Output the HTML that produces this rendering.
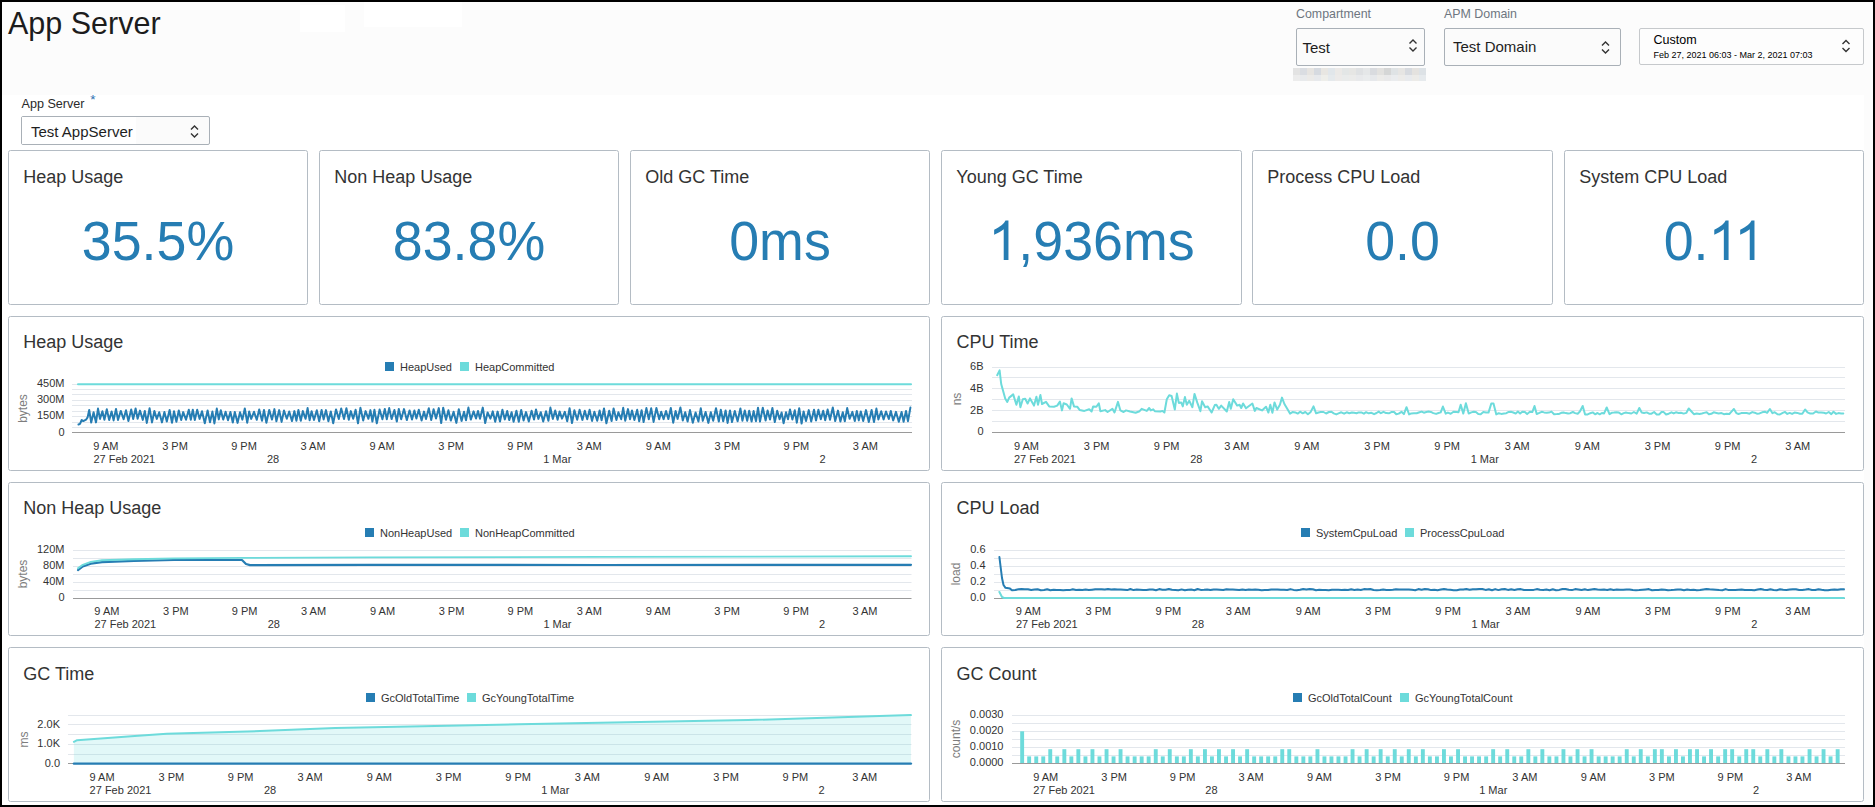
<!DOCTYPE html>
<html><head><meta charset="utf-8"><title>App Server</title>
<style>
html,body{margin:0;padding:0;}
body{width:1875px;height:807px;overflow:hidden;background:#000;position:relative;font-family:"Liberation Sans", sans-serif;}
.abs{position:absolute;}
.frame{left:2px;top:2px;width:1871px;height:803px;background:#fcfcfc;}
.content{left:2px;top:95px;width:1862px;height:710px;background:#ffffff;}
.card{position:absolute;box-sizing:border-box;border:1px solid #b4bcc4;border-radius:2.5px;background:#fff;}
.sel{position:absolute;box-sizing:border-box;border:1px solid #a9b0b7;border-radius:2px;}
svg{position:absolute;left:0;top:0;overflow:visible;}
svg text{font-family:"Liberation Sans", sans-serif;}
</style></head><body>
<div class="abs frame"></div>
<div class="abs content"></div>
<div class="abs" style="left:300px;top:5px;width:45px;height:27px;background:#fff"></div>
<div class="abs" style="left:364px;top:2px;width:98px;height:25px;background:#fff"></div>

<div class="sel" style="left:1296px;top:28px;width:129px;height:38px;background:#fbfbfb"></div>
<div class="sel" style="left:1444px;top:28px;width:177px;height:38px;background:#fbfbfb"></div>
<div class="sel" style="left:1639px;top:28px;width:225px;height:37px;background:#fdfdfd;border-color:#c6c9cc"></div>
<div class="sel" style="left:21px;top:116px;width:189px;height:29px;background:#fbfbfb"></div>
<div class="abs" style="left:22px;top:117px;width:114px;height:27px;background:#fff"></div>
<div class="abs" style="left:1293px;top:68px;width:7px;height:7px;background:#e3e3e3"></div><div class="abs" style="left:1293px;top:75px;width:7px;height:6px;background:#ececec"></div><div class="abs" style="left:1300px;top:68px;width:7px;height:7px;background:#dadde2"></div><div class="abs" style="left:1300px;top:75px;width:7px;height:6px;background:#e8eaec"></div><div class="abs" style="left:1307px;top:68px;width:7px;height:7px;background:#e6e4e1"></div><div class="abs" style="left:1307px;top:75px;width:7px;height:6px;background:#ebeae8"></div><div class="abs" style="left:1314px;top:68px;width:7px;height:7px;background:#d6dae0"></div><div class="abs" style="left:1314px;top:75px;width:7px;height:6px;background:#e7e9ec"></div><div class="abs" style="left:1321px;top:68px;width:7px;height:7px;background:#e8e6e2"></div><div class="abs" style="left:1321px;top:75px;width:7px;height:6px;background:#eeeeea"></div><div class="abs" style="left:1328px;top:68px;width:7px;height:7px;background:#e1e6ea"></div><div class="abs" style="left:1328px;top:75px;width:7px;height:6px;background:#e5e9ec"></div><div class="abs" style="left:1335px;top:68px;width:7px;height:7px;background:#ebe9e7"></div><div class="abs" style="left:1335px;top:75px;width:7px;height:6px;background:#eceae9"></div><div class="abs" style="left:1342px;top:68px;width:7px;height:7px;background:#e3e6e6"></div><div class="abs" style="left:1342px;top:75px;width:7px;height:6px;background:#e9ebeb"></div><div class="abs" style="left:1349px;top:68px;width:7px;height:7px;background:#e6e6e4"></div><div class="abs" style="left:1349px;top:75px;width:7px;height:6px;background:#ebebea"></div><div class="abs" style="left:1356px;top:68px;width:7px;height:7px;background:#dfe1e3"></div><div class="abs" style="left:1356px;top:75px;width:7px;height:6px;background:#e8e9eb"></div><div class="abs" style="left:1363px;top:68px;width:7px;height:7px;background:#e5e7e8"></div><div class="abs" style="left:1363px;top:75px;width:7px;height:6px;background:#eaeced"></div><div class="abs" style="left:1370px;top:68px;width:7px;height:7px;background:#d9dbdf"></div><div class="abs" style="left:1370px;top:75px;width:7px;height:6px;background:#e6e8eb"></div><div class="abs" style="left:1377px;top:68px;width:7px;height:7px;background:#e2e1df"></div><div class="abs" style="left:1377px;top:75px;width:7px;height:6px;background:#ecebe9"></div><div class="abs" style="left:1384px;top:68px;width:7px;height:7px;background:#d5d6d6"></div><div class="abs" style="left:1384px;top:75px;width:7px;height:6px;background:#e9e9ea"></div><div class="abs" style="left:1391px;top:68px;width:7px;height:7px;background:#dfe3e5"></div><div class="abs" style="left:1391px;top:75px;width:7px;height:6px;background:#eaecee"></div><div class="abs" style="left:1398px;top:68px;width:7px;height:7px;background:#e6e5e3"></div><div class="abs" style="left:1398px;top:75px;width:7px;height:6px;background:#ecebe9"></div><div class="abs" style="left:1405px;top:68px;width:7px;height:7px;background:#d7dadf"></div><div class="abs" style="left:1405px;top:75px;width:7px;height:6px;background:#e8eaed"></div><div class="abs" style="left:1412px;top:68px;width:7px;height:7px;background:#e4e2df"></div><div class="abs" style="left:1412px;top:75px;width:7px;height:6px;background:#ecebe8"></div><div class="abs" style="left:1419px;top:68px;width:7px;height:7px;background:#dde2e6"></div><div class="abs" style="left:1419px;top:75px;width:7px;height:6px;background:#e6eaed"></div>
<div class="card" style="left:8px;top:150px;width:300px;height:155px"></div>
<div class="card" style="left:319px;top:150px;width:300px;height:155px"></div>
<div class="card" style="left:630px;top:150px;width:300px;height:155px"></div>
<div class="card" style="left:941px;top:150px;width:301px;height:155px"></div>
<div class="card" style="left:1252px;top:150px;width:301px;height:155px"></div>
<div class="card" style="left:1564px;top:150px;width:300px;height:155px"></div>
<div class="card" style="left:8px;top:316px;width:922px;height:155px"></div>
<div class="card" style="left:941px;top:316px;width:923px;height:155px"></div>
<div class="card" style="left:8px;top:482px;width:922px;height:154px"></div>
<div class="card" style="left:941px;top:482px;width:923px;height:154px"></div>
<div class="card" style="left:8px;top:647px;width:922px;height:155px"></div>
<div class="card" style="left:941px;top:647px;width:923px;height:155px"></div>
<svg width="1875" height="807" viewBox="0 0 1875 807"><text x="8" y="34" font-size="30.5" fill="#1c1c1c" text-anchor="start" >App Server</text><text x="1296" y="18" font-size="12.4" fill="#6e7680" text-anchor="start" >Compartment</text><text x="1444" y="18" font-size="12.4" fill="#6e7680" text-anchor="start" >APM Domain</text><text x="1302.5" y="53" font-size="15" fill="#1e1e1e" text-anchor="start" >Test</text><text x="1453" y="52" font-size="15" fill="#1e1e1e" text-anchor="start" >Test Domain</text><text x="1653.5" y="44" font-size="12.5" fill="#000" text-anchor="start" >Custom</text><text x="1653.5" y="58" font-size="9" fill="#000" text-anchor="start" >Feb 27, 2021 06:03 - Mar 2, 2021 07:03</text><text x="21.5" y="108" font-size="12.6" fill="#2a2a2a" text-anchor="start" >App Server</text><text x="90.3" y="104" font-size="13.5" fill="#2d6fb1" text-anchor="start" >*</text><text x="31" y="137" font-size="15" fill="#1e1e1e" text-anchor="start" >Test AppServer</text><path d="M1409.5,43.5 L1413,40.0 L1416.5,43.5 M1409.5,47.5 L1413,51.0 L1416.5,47.5" fill="none" stroke="#333" stroke-width="1.4"/><path d="M1602.0,45.5 L1605.5,42.0 L1609.0,45.5 M1602.0,49.5 L1605.5,53.0 L1609.0,49.5" fill="none" stroke="#333" stroke-width="1.4"/><path d="M1842.5,44 L1846,40.5 L1849.5,44 M1842.5,48 L1846,51.5 L1849.5,48" fill="none" stroke="#333" stroke-width="1.4"/><path d="M191.0,129.5 L194.5,126.0 L198.0,129.5 M191.0,133.5 L194.5,137.0 L198.0,133.5" fill="none" stroke="#333" stroke-width="1.4"/><text x="23.3" y="183" font-size="18" fill="#333333" text-anchor="start" >Heap Usage</text><g transform="translate(158.0,260) scale(0.955,1)"><text x="0" y="0" font-size="56.3" fill="#267db3" text-anchor="middle" >35.5%</text></g><text x="334.3" y="183" font-size="18" fill="#333333" text-anchor="start" >Non Heap Usage</text><g transform="translate(469.0,260) scale(0.955,1)"><text x="0" y="0" font-size="56.3" fill="#267db3" text-anchor="middle" >83.8%</text></g><text x="645.3" y="183" font-size="18" fill="#333333" text-anchor="start" >Old GC Time</text><g transform="translate(780.0,260) scale(0.955,1)"><text x="0" y="0" font-size="56.3" fill="#267db3" text-anchor="middle" >0ms</text></g><text x="956.3" y="183" font-size="18" fill="#333333" text-anchor="start" >Young GC Time</text><g transform="translate(1091.5,260) scale(0.955,1)"><path transform="translate(-107.96,0) scale(0.056299999999999996,-0.056299999999999996)" d="M373,0 L373,702 L318,702 C292,651 238,600 107,536 L107,450 C172,474 238,510 285,545 L285,0 Z" fill="#267db3"/><text x="-76.65" y="0" font-size="56.3" fill="#267db3" text-anchor="start" >,936ms</text></g><text x="1267.3" y="183" font-size="18" fill="#333333" text-anchor="start" >Process CPU Load</text><g transform="translate(1402.5,260) scale(0.955,1)"><text x="0" y="0" font-size="56.3" fill="#267db3" text-anchor="middle" >0.0</text></g><text x="1579.3" y="183" font-size="18" fill="#333333" text-anchor="start" >System CPU Load</text><g transform="translate(1714.0,260) scale(0.955,1)"><text x="-52.70" y="0" font-size="56.3" fill="#267db3" text-anchor="start" >0.</text><path transform="translate(-5.74,0) scale(0.056299999999999996,-0.056299999999999996)" d="M373,0 L373,702 L318,702 C292,651 238,600 107,536 L107,450 C172,474 238,510 285,545 L285,0 Z" fill="#267db3"/><path transform="translate(21.39,0) scale(0.056299999999999996,-0.056299999999999996)" d="M373,0 L373,702 L318,702 C292,651 238,600 107,536 L107,450 C172,474 238,510 285,545 L285,0 Z" fill="#267db3"/></g><text x="23.3" y="348" font-size="18" fill="#333333" text-anchor="start" >Heap Usage</text><rect x="385" y="362" width="9" height="9" fill="#267db3"/><text x="400" y="371" font-size="11" fill="#333333" text-anchor="start" >HeapUsed</text><rect x="460" y="362" width="9" height="9" fill="#6ddbdb"/><text x="475" y="371" font-size="11" fill="#333333" text-anchor="start" >HeapCommitted</text><line x1="72" y1="384.5" x2="912" y2="384.5" stroke="#e3e7ec" stroke-width="1"/><line x1="72" y1="389.5" x2="912" y2="389.5" stroke="#e3e7ec" stroke-width="1"/><line x1="72" y1="394.5" x2="912" y2="394.5" stroke="#e3e7ec" stroke-width="1"/><line x1="72" y1="400.5" x2="912" y2="400.5" stroke="#e3e7ec" stroke-width="1"/><line x1="72" y1="405.5" x2="912" y2="405.5" stroke="#e3e7ec" stroke-width="1"/><line x1="72" y1="411.5" x2="912" y2="411.5" stroke="#e3e7ec" stroke-width="1"/><line x1="72" y1="416.5" x2="912" y2="416.5" stroke="#e3e7ec" stroke-width="1"/><line x1="72" y1="422.5" x2="912" y2="422.5" stroke="#e3e7ec" stroke-width="1"/><line x1="72" y1="427.5" x2="912" y2="427.5" stroke="#e3e7ec" stroke-width="1"/><line x1="72" y1="432.5" x2="912" y2="432.5" stroke="#9a9a9a" stroke-width="1"/><text x="64.5" y="387.2" font-size="11" fill="#333333" text-anchor="end" >450M</text><text x="64.5" y="403.2" font-size="11" fill="#333333" text-anchor="end" >300M</text><text x="64.5" y="419.2" font-size="11" fill="#333333" text-anchor="end" >150M</text><text x="64.5" y="435.9" font-size="11" fill="#333333" text-anchor="end" >0</text><text x="0" y="0" font-size="12" fill="#7d7d7d" text-anchor="middle" transform="translate(23,408.5) rotate(-90)" dominant-baseline="central">bytes</text><text x="105.9" y="450" font-size="11" fill="#333333" text-anchor="middle" >9 AM</text><text x="175.0" y="450" font-size="11" fill="#333333" text-anchor="middle" >3 PM</text><text x="244.0" y="450" font-size="11" fill="#333333" text-anchor="middle" >9 PM</text><text x="313.1" y="450" font-size="11" fill="#333333" text-anchor="middle" >3 AM</text><text x="382.1" y="450" font-size="11" fill="#333333" text-anchor="middle" >9 AM</text><text x="451.2" y="450" font-size="11" fill="#333333" text-anchor="middle" >3 PM</text><text x="520.2" y="450" font-size="11" fill="#333333" text-anchor="middle" >9 PM</text><text x="589.2" y="450" font-size="11" fill="#333333" text-anchor="middle" >3 AM</text><text x="658.3" y="450" font-size="11" fill="#333333" text-anchor="middle" >9 AM</text><text x="727.3" y="450" font-size="11" fill="#333333" text-anchor="middle" >3 PM</text><text x="796.4" y="450" font-size="11" fill="#333333" text-anchor="middle" >9 PM</text><text x="865.4" y="450" font-size="11" fill="#333333" text-anchor="middle" >3 AM</text><text x="93.4" y="463" font-size="11" fill="#333333" text-anchor="start" >27 Feb 2021</text><text x="267.0" y="463" font-size="11" fill="#333333" text-anchor="start" >28</text><text x="543.2" y="463" font-size="11" fill="#333333" text-anchor="start" >1 Mar</text><text x="819.4" y="463" font-size="11" fill="#333333" text-anchor="start" >2</text><path d="M78.0,384.3 L911.0,384.3" fill="none" stroke="#6ddbdb" stroke-width="2" stroke-linejoin="round" stroke-linecap="round"/><path d="M78.5,424.5 L80.0,423.8 L81.7,420.0 L83.3,421.1 L86.0,419.7 L87.6,417.4 L89.2,410.0 L91.2,422.6 L93.6,412.2 L96.0,422.4 L98.0,408.6 L100.0,418.9 L102.4,411.2 L104.4,419.7 L106.8,409.2 L109.2,420.1 L111.6,411.5 L113.6,420.4 L116.0,408.9 L118.0,420.0 L120.8,410.9 L123.6,419.2 L126.0,410.2 L128.4,421.1 L131.2,409.5 L133.2,419.0 L135.6,408.5 L137.6,418.7 L140.0,410.6 L142.8,419.9 L144.8,410.9 L146.8,422.9 L149.6,408.3 L152.0,422.4 L154.4,411.0 L156.8,418.9 L159.2,412.3 L162.0,422.4 L164.4,412.0 L166.8,421.5 L169.6,410.0 L172.0,422.8 L174.0,411.3 L176.4,421.8 L178.8,410.5 L181.2,420.0 L183.2,412.1 L186.0,419.7 L188.8,409.7 L190.8,419.8 L192.8,409.7 L194.8,420.1 L197.2,409.7 L199.6,418.9 L202.0,411.3 L204.8,423.2 L207.6,410.4 L210.0,422.2 L212.4,411.6 L214.4,423.4 L216.8,408.6 L218.8,419.4 L220.8,410.3 L223.2,419.6 L225.6,411.8 L228.0,420.3 L230.4,412.0 L232.8,422.5 L234.8,411.9 L237.6,422.9 L240.0,412.3 L242.4,419.6 L244.8,408.4 L247.2,422.7 L249.2,411.5 L251.2,418.9 L254.0,411.8 L256.8,419.8 L259.2,409.4 L262.0,420.7 L264.0,410.0 L266.4,422.7 L269.2,409.9 L272.0,419.6 L274.4,409.1 L276.4,421.3 L279.2,410.1 L281.6,421.9 L284.0,410.5 L286.8,418.7 L289.2,411.5 L292.0,421.1 L294.4,411.1 L296.4,420.8 L298.4,409.9 L300.8,420.7 L302.8,411.1 L305.6,418.8 L307.6,408.1 L309.6,420.2 L311.6,411.3 L314.0,419.9 L316.8,410.2 L319.2,421.2 L321.6,409.9 L323.6,419.4 L326.0,410.1 L328.4,421.2 L330.8,411.4 L333.2,423.3 L336.0,409.4 L338.8,419.0 L341.2,408.4 L344.0,419.1 L346.4,408.2 L348.8,419.8 L350.8,411.1 L353.2,418.7 L355.6,409.8 L358.0,423.3 L360.4,407.8 L363.2,420.5 L365.6,411.1 L368.4,418.8 L370.4,410.1 L372.4,421.5 L374.4,409.8 L376.8,423.2 L379.6,409.5 L382.4,419.3 L384.8,408.9 L386.8,419.3 L389.2,408.1 L391.6,419.1 L394.4,410.0 L396.8,421.5 L398.8,409.0 L401.2,419.2 L404.0,409.1 L406.8,420.1 L409.6,410.4 L412.0,419.5 L414.4,410.5 L416.4,418.5 L418.8,409.7 L421.6,420.5 L424.0,411.6 L426.0,419.0 L428.8,408.2 L431.2,420.1 L433.6,409.3 L436.0,418.5 L438.8,408.1 L441.2,423.1 L443.2,407.7 L446.0,419.7 L448.4,410.2 L450.8,420.6 L453.6,411.7 L456.4,422.9 L458.8,409.2 L461.6,420.9 L464.0,411.8 L466.0,420.3 L468.4,407.6 L470.8,419.6 L473.6,411.4 L476.0,418.5 L478.0,411.0 L480.0,418.7 L482.8,407.6 L485.2,423.0 L487.6,412.4 L490.4,418.7 L492.8,411.4 L495.2,421.8 L497.6,411.6 L500.0,421.6 L502.4,409.8 L504.8,419.4 L507.2,410.9 L509.2,420.1 L511.6,412.3 L513.6,421.7 L516.4,410.7 L518.8,421.7 L521.2,409.9 L523.6,420.6 L526.0,412.1 L528.8,421.5 L531.6,410.7 L534.0,419.6 L536.0,409.5 L538.4,418.9 L540.8,412.2 L543.2,421.6 L546.0,411.3 L548.4,420.8 L550.4,407.6 L552.8,418.9 L555.2,410.4 L557.6,419.8 L559.6,411.4 L562.0,418.6 L564.8,411.8 L567.2,421.2 L569.6,408.3 L572.0,423.0 L574.4,410.2 L577.2,419.7 L579.6,409.7 L582.4,419.9 L584.8,410.8 L587.2,419.2 L589.6,409.8 L592.0,420.9 L594.4,411.7 L597.2,420.7 L599.6,410.5 L601.6,420.2 L604.0,408.5 L606.4,423.3 L609.2,410.8 L611.6,421.1 L613.6,408.4 L616.4,420.0 L618.4,412.3 L621.2,419.2 L623.2,407.8 L625.2,420.7 L628.0,409.1 L630.0,419.2 L632.0,410.4 L634.4,420.1 L637.2,409.8 L639.2,421.3 L641.6,410.2 L643.6,422.1 L646.4,408.1 L648.8,419.2 L651.2,408.3 L653.6,421.9 L656.4,408.0 L659.2,419.2 L661.2,411.7 L663.6,419.1 L666.0,411.0 L668.4,419.1 L670.8,407.9 L673.2,422.7 L675.6,411.0 L677.6,418.9 L680.4,407.5 L682.8,420.6 L685.2,412.2 L687.6,421.5 L690.0,410.1 L692.8,422.8 L695.6,412.5 L698.4,421.5 L700.8,408.3 L702.8,420.8 L705.6,412.0 L708.4,422.9 L710.8,412.3 L713.2,420.7 L716.0,408.3 L718.8,421.6 L720.8,409.7 L723.2,421.2 L725.6,410.5 L727.6,422.9 L730.0,410.4 L732.0,422.0 L734.8,410.9 L737.6,421.2 L740.4,408.5 L742.4,420.7 L744.8,410.5 L747.2,420.9 L749.2,410.7 L751.6,421.6 L753.6,411.1 L756.0,421.2 L758.0,407.7 L760.0,421.5 L762.8,407.8 L765.6,420.5 L767.6,410.4 L770.0,419.6 L772.4,408.0 L774.8,422.1 L777.2,410.7 L779.6,419.2 L781.6,412.5 L783.6,423.3 L786.0,412.2 L788.0,419.2 L790.0,409.4 L792.4,419.6 L794.8,410.3 L796.8,422.7 L799.2,408.2 L801.6,423.5 L803.6,411.5 L806.0,421.0 L808.8,410.1 L811.2,421.6 L814.0,409.7 L816.0,420.5 L818.4,409.8 L820.8,419.3 L823.2,410.8 L825.2,420.2 L827.6,409.6 L830.0,419.7 L832.8,407.5 L835.2,421.0 L838.0,410.6 L840.4,421.6 L842.8,412.2 L844.8,421.3 L847.2,408.1 L849.6,418.8 L852.4,411.9 L854.8,421.0 L856.8,410.9 L858.8,420.4 L860.8,411.4 L863.2,421.1 L866.0,410.1 L868.8,421.9 L871.6,410.0 L874.0,422.0 L876.4,408.6 L878.4,419.5 L881.2,411.2 L883.6,419.4 L886.0,411.5 L888.8,419.0 L890.8,411.0 L893.2,420.4 L896.0,411.9 L898.8,421.8 L901.6,411.9 L903.6,421.8 L906.0,411.0 L908.0,421.2 L910.4,407.6" fill="none" stroke="#267db3" stroke-width="2" stroke-linejoin="round" stroke-linecap="round"/><text x="956.5" y="348" font-size="18" fill="#333333" text-anchor="start" >CPU Time</text><line x1="992" y1="367.5" x2="1845" y2="367.5" stroke="#e3e7ec" stroke-width="1"/><line x1="992" y1="377.5" x2="1845" y2="377.5" stroke="#e3e7ec" stroke-width="1"/><line x1="992" y1="388.5" x2="1845" y2="388.5" stroke="#e3e7ec" stroke-width="1"/><line x1="992" y1="399.5" x2="1845" y2="399.5" stroke="#e3e7ec" stroke-width="1"/><line x1="992" y1="410.5" x2="1845" y2="410.5" stroke="#e3e7ec" stroke-width="1"/><line x1="992" y1="421.5" x2="1845" y2="421.5" stroke="#e3e7ec" stroke-width="1"/><line x1="992" y1="432.5" x2="1845" y2="432.5" stroke="#9a9a9a" stroke-width="1"/><text x="983.5" y="370.3" font-size="11" fill="#333333" text-anchor="end" >6B</text><text x="983.5" y="392.3" font-size="11" fill="#333333" text-anchor="end" >4B</text><text x="983.5" y="413.7" font-size="11" fill="#333333" text-anchor="end" >2B</text><text x="983.5" y="435.4" font-size="11" fill="#333333" text-anchor="end" >0</text><text x="0" y="0" font-size="12" fill="#7d7d7d" text-anchor="middle" transform="translate(956.7,399) rotate(-90)" dominant-baseline="central">ns</text><text x="1026.5" y="450" font-size="11" fill="#333333" text-anchor="middle" >9 AM</text><text x="1096.6" y="450" font-size="11" fill="#333333" text-anchor="middle" >3 PM</text><text x="1166.7" y="450" font-size="11" fill="#333333" text-anchor="middle" >9 PM</text><text x="1236.8" y="450" font-size="11" fill="#333333" text-anchor="middle" >3 AM</text><text x="1306.9" y="450" font-size="11" fill="#333333" text-anchor="middle" >9 AM</text><text x="1377.0" y="450" font-size="11" fill="#333333" text-anchor="middle" >3 PM</text><text x="1447.1" y="450" font-size="11" fill="#333333" text-anchor="middle" >9 PM</text><text x="1517.2" y="450" font-size="11" fill="#333333" text-anchor="middle" >3 AM</text><text x="1587.3" y="450" font-size="11" fill="#333333" text-anchor="middle" >9 AM</text><text x="1657.5" y="450" font-size="11" fill="#333333" text-anchor="middle" >3 PM</text><text x="1727.6" y="450" font-size="11" fill="#333333" text-anchor="middle" >9 PM</text><text x="1797.7" y="450" font-size="11" fill="#333333" text-anchor="middle" >3 AM</text><text x="1014.0" y="463" font-size="11" fill="#333333" text-anchor="start" >27 Feb 2021</text><text x="1190.2" y="463" font-size="11" fill="#333333" text-anchor="start" >28</text><text x="1470.7" y="463" font-size="11" fill="#333333" text-anchor="start" >1 Mar</text><text x="1751.1" y="463" font-size="11" fill="#333333" text-anchor="start" >2</text><path d="M997.2,375.2 L999.6,370.4 L1001.2,384.0 L1005.2,398.4 L1007.3,401.9 L1009.2,397.6 L1013.2,394.4 L1016.4,404.8 L1018.8,396.5 L1020.4,407.2 L1022.8,399.2 L1025.2,398.7 L1027.6,403.5 L1030.0,398.4 L1034.0,405.6 L1036.4,396.8 L1038.0,404.8 L1040.4,394.9 L1042.0,404.0 L1046.0,401.9 L1049.2,406.4 L1054.0,406.7 L1057.2,405.6 L1059.9,401.6 L1062.0,410.4 L1063.6,403.2 L1066.8,404.5 L1070.0,408.8 L1071.6,398.4 L1074.0,406.4 L1077.2,406.7 L1079.6,409.9 L1084.4,410.9 L1089.2,409.3 L1091.6,411.5 L1093.2,406.4 L1096.4,406.7 L1098.8,403.2 L1100.4,411.2 L1105.2,410.1 L1107.6,412.0 L1112.4,408.8 L1114.5,412.5 L1118.0,401.9 L1120.4,410.4 L1123.6,412.0 L1126.0,410.4 L1130.0,411.5 L1135.6,412.8 L1139.6,411.2 L1141.7,408.8 L1146.8,410.9 L1149.2,408.0 L1150.8,410.4 L1153.2,409.3 L1154.8,411.2 L1160.4,411.5 L1162.5,410.9 L1164.4,412.5 L1166.8,399.2 L1169.2,395.2 L1171.6,396.0 L1174.8,409.6 L1176.9,393.6 L1178.8,402.9 L1181.2,402.4 L1182.8,406.4 L1184.9,397.1 L1186.8,404.8 L1189.2,400.8 L1192.4,407.2 L1194.5,393.9 L1197.2,402.4 L1200.4,411.2 L1202.0,401.3 L1205.2,407.2 L1207.6,406.4 L1211.6,412.5 L1214.8,405.1 L1216.4,404.8 L1218.8,408.8 L1221.2,405.6 L1226.8,411.5 L1229.2,401.9 L1230.8,408.8 L1233.2,399.2 L1237.2,405.6 L1239.6,404.8 L1241.2,408.0 L1243.1,403.5 L1246.0,408.3 L1252.4,403.5 L1254.8,410.9 L1256.4,408.0 L1262.0,410.4 L1266.0,406.7 L1268.4,412.5 L1270.3,404.8 L1272.4,412.8 L1274.5,402.4 L1277.2,409.6 L1279.9,404.8 L1282.0,397.6 L1284.4,404.0 L1286.8,408.0 L1290.0,413.6 L1292.5,412.1 L1295.3,412.4 L1297.7,413.6 L1300.1,411.7 L1302.7,413.3 L1305.3,412.0 L1307.9,414.2 L1310.7,411.9 L1313.5,406.4 L1316.1,413.3 L1318.5,412.5 L1320.7,412.1 L1323.5,412.0 L1326.1,413.5 L1328.9,412.0 L1331.5,411.8 L1333.7,413.4 L1336.3,414.4 L1339.1,413.2 L1341.3,412.3 L1344.1,413.7 L1346.7,412.3 L1349.3,413.2 L1351.9,412.5 L1354.1,412.8 L1356.5,413.3 L1358.7,412.4 L1361.3,412.4 L1363.9,413.7 L1366.1,412.2 L1368.7,413.3 L1371.5,412.8 L1374.1,414.2 L1376.5,413.0 L1378.7,411.6 L1380.9,413.2 L1383.5,411.8 L1386.1,413.1 L1388.9,413.3 L1391.3,412.1 L1394.1,412.0 L1396.3,414.3 L1398.7,413.6 L1401.5,411.8 L1403.9,414.1 L1406.5,407.2 L1409.1,414.4 L1411.3,413.4 L1413.9,413.3 L1416.7,413.3 L1419.5,412.2 L1421.7,411.6 L1423.9,412.7 L1426.3,412.0 L1428.5,411.5 L1430.9,411.9 L1433.3,413.1 L1436.1,413.9 L1438.5,413.0 L1440.7,412.4 L1442.9,406.5 L1445.7,413.6 L1447.9,412.6 L1450.7,413.7 L1453.5,411.7 L1456.3,412.0 L1458.5,412.3 L1460.7,404.8 L1463.3,413.6 L1465.9,403.2 L1468.7,413.6 L1471.3,412.4 L1473.7,411.8 L1475.9,412.0 L1478.3,414.0 L1480.7,414.3 L1483.3,412.1 L1486.1,412.5 L1488.5,412.6 L1491.3,403.5 L1493.5,403.5 L1496.3,414.4 L1498.7,413.2 L1501.3,413.9 L1504.1,413.4 L1506.3,413.2 L1508.7,411.9 L1510.9,411.8 L1513.3,412.5 L1515.7,413.6 L1517.9,411.6 L1520.1,413.6 L1522.3,411.7 L1524.9,412.1 L1527.1,414.1 L1529.9,411.8 L1532.3,412.1 L1534.5,406.0 L1536.7,414.0 L1539.3,412.9 L1541.7,411.8 L1544.1,412.4 L1546.7,412.8 L1548.9,412.6 L1551.5,411.6 L1554.1,414.2 L1556.9,414.1 L1559.1,413.9 L1561.3,412.8 L1563.5,412.5 L1565.7,413.1 L1568.1,413.6 L1570.3,413.2 L1572.9,412.0 L1575.1,413.1 L1577.7,413.8 L1579.9,411.5 L1582.7,406.0 L1585.1,414.4 L1587.7,414.4 L1590.3,413.2 L1592.7,412.4 L1595.1,414.3 L1597.5,413.0 L1599.7,414.3 L1601.9,413.0 L1604.1,413.4 L1606.7,407.5 L1609.5,414.2 L1611.7,412.8 L1613.9,412.6 L1616.5,412.3 L1618.9,412.6 L1621.3,414.3 L1623.7,413.1 L1625.9,412.5 L1628.5,413.1 L1631.3,413.5 L1633.9,412.0 L1636.7,413.6 L1639.3,408.0 L1641.7,412.5 L1644.1,413.0 L1646.7,412.4 L1649.1,413.7 L1651.5,413.7 L1654.1,412.0 L1656.7,414.4 L1659.3,414.4 L1661.5,412.0 L1663.7,412.1 L1666.1,414.5 L1668.7,413.7 L1671.5,412.3 L1673.7,413.4 L1675.9,412.3 L1678.7,412.9 L1680.9,412.7 L1683.7,413.6 L1686.3,412.9 L1688.7,408.5 L1691.5,411.5 L1693.9,414.2 L1696.7,413.6 L1699.5,414.0 L1701.9,413.5 L1704.1,412.9 L1706.7,412.3 L1708.9,414.2 L1711.3,413.8 L1713.7,412.3 L1716.5,412.9 L1718.7,413.4 L1721.5,413.1 L1723.9,414.2 L1726.5,413.8 L1729.3,414.0 L1731.5,411.6 L1733.9,409.0 L1736.3,413.1 L1738.5,414.0 L1741.3,413.1 L1744.1,413.0 L1746.7,413.1 L1749.5,413.7 L1752.3,412.1 L1754.7,412.7 L1756.9,413.7 L1759.5,413.4 L1762.1,412.3 L1764.9,411.7 L1767.1,412.8 L1769.9,409.0 L1772.5,413.2 L1774.7,412.2 L1777.5,414.3 L1779.9,414.5 L1782.7,412.9 L1785.1,411.9 L1787.3,413.9 L1789.7,412.9 L1792.1,413.9 L1794.5,412.6 L1797.3,412.9 L1799.9,413.8 L1802.3,413.8 L1805.1,409.5 L1807.5,412.3 L1810.3,413.6 L1813.1,413.5 L1815.9,411.5 L1818.5,412.6 L1821.1,412.5 L1823.9,412.8 L1826.1,413.5 L1828.7,412.0 L1831.3,414.1 L1833.5,411.8 L1836.1,413.9 L1838.5,413.1 L1841.1,413.4 L1843.3,413.5" fill="none" stroke="#6ddbdb" stroke-width="2" stroke-linejoin="round" stroke-linecap="round"/><text x="23.3" y="513.5" font-size="18" fill="#333333" text-anchor="start" >Non Heap Usage</text><rect x="365" y="528" width="9" height="9" fill="#267db3"/><text x="380" y="537" font-size="11" fill="#333333" text-anchor="start" >NonHeapUsed</text><rect x="460" y="528" width="9" height="9" fill="#6ddbdb"/><text x="475" y="537" font-size="11" fill="#333333" text-anchor="start" >NonHeapCommitted</text><line x1="73" y1="550.5" x2="911.5" y2="550.5" stroke="#e3e7ec" stroke-width="1"/><line x1="73" y1="558.5" x2="911.5" y2="558.5" stroke="#e3e7ec" stroke-width="1"/><line x1="73" y1="566.5" x2="911.5" y2="566.5" stroke="#e3e7ec" stroke-width="1"/><line x1="73" y1="574.5" x2="911.5" y2="574.5" stroke="#e3e7ec" stroke-width="1"/><line x1="73" y1="582.5" x2="911.5" y2="582.5" stroke="#e3e7ec" stroke-width="1"/><line x1="73" y1="590.5" x2="911.5" y2="590.5" stroke="#e3e7ec" stroke-width="1"/><line x1="73" y1="598.5" x2="911.5" y2="598.5" stroke="#9a9a9a" stroke-width="1"/><text x="64.5" y="552.9" font-size="11" fill="#333333" text-anchor="end" >120M</text><text x="64.5" y="568.9" font-size="11" fill="#333333" text-anchor="end" >80M</text><text x="64.5" y="584.9" font-size="11" fill="#333333" text-anchor="end" >40M</text><text x="64.5" y="600.9" font-size="11" fill="#333333" text-anchor="end" >0</text><text x="0" y="0" font-size="12" fill="#7d7d7d" text-anchor="middle" transform="translate(22.5,574) rotate(-90)" dominant-baseline="central">bytes</text><text x="106.9" y="615" font-size="11" fill="#333333" text-anchor="middle" >9 AM</text><text x="175.8" y="615" font-size="11" fill="#333333" text-anchor="middle" >3 PM</text><text x="244.7" y="615" font-size="11" fill="#333333" text-anchor="middle" >9 PM</text><text x="313.6" y="615" font-size="11" fill="#333333" text-anchor="middle" >3 AM</text><text x="382.6" y="615" font-size="11" fill="#333333" text-anchor="middle" >9 AM</text><text x="451.5" y="615" font-size="11" fill="#333333" text-anchor="middle" >3 PM</text><text x="520.4" y="615" font-size="11" fill="#333333" text-anchor="middle" >9 PM</text><text x="589.3" y="615" font-size="11" fill="#333333" text-anchor="middle" >3 AM</text><text x="658.2" y="615" font-size="11" fill="#333333" text-anchor="middle" >9 AM</text><text x="727.1" y="615" font-size="11" fill="#333333" text-anchor="middle" >3 PM</text><text x="796.1" y="615" font-size="11" fill="#333333" text-anchor="middle" >9 PM</text><text x="865.0" y="615" font-size="11" fill="#333333" text-anchor="middle" >3 AM</text><text x="94.4" y="628" font-size="11" fill="#333333" text-anchor="start" >27 Feb 2021</text><text x="267.7" y="628" font-size="11" fill="#333333" text-anchor="start" >28</text><text x="543.4" y="628" font-size="11" fill="#333333" text-anchor="start" >1 Mar</text><text x="819.0" y="628" font-size="11" fill="#333333" text-anchor="start" >2</text><path d="M78.0,570.1 L82.8,566.4 L90.8,563.7 L102.0,562.1 L134.0,560.8 L174.0,560.0 L242.0,560.0 L246.0,564.0 L250.0,565.1 L370.0,564.8 L600.0,565.0 L911.0,564.8" fill="none" stroke="#267db3" stroke-width="2.2" stroke-linejoin="round" stroke-linecap="round"/><path d="M78.0,568.3 L82.8,564.8 L90.8,561.9 L102.0,560.2 L134.0,559.2 L174.0,558.4 L242.0,557.9 L370.0,557.4 L600.0,556.9 L911.0,556.3" fill="none" stroke="#6ddbdb" stroke-width="1.9" stroke-linejoin="round" stroke-linecap="round"/><text x="956.5" y="513.5" font-size="18" fill="#333333" text-anchor="start" >CPU Load</text><rect x="1301" y="528" width="9" height="9" fill="#267db3"/><text x="1316" y="537" font-size="11" fill="#333333" text-anchor="start" >SystemCpuLoad</text><rect x="1405" y="528" width="9" height="9" fill="#6ddbdb"/><text x="1420" y="537" font-size="11" fill="#333333" text-anchor="start" >ProcessCpuLoad</text><line x1="994" y1="550.5" x2="1845" y2="550.5" stroke="#e3e7ec" stroke-width="1"/><line x1="994" y1="558.5" x2="1845" y2="558.5" stroke="#e3e7ec" stroke-width="1"/><line x1="994" y1="566.5" x2="1845" y2="566.5" stroke="#e3e7ec" stroke-width="1"/><line x1="994" y1="574.5" x2="1845" y2="574.5" stroke="#e3e7ec" stroke-width="1"/><line x1="994" y1="582.5" x2="1845" y2="582.5" stroke="#e3e7ec" stroke-width="1"/><line x1="994" y1="590.5" x2="1845" y2="590.5" stroke="#e3e7ec" stroke-width="1"/><line x1="994" y1="598.5" x2="1845" y2="598.5" stroke="#9a9a9a" stroke-width="1"/><text x="985.5" y="552.9" font-size="11" fill="#333333" text-anchor="end" >0.6</text><text x="985.5" y="568.9" font-size="11" fill="#333333" text-anchor="end" >0.4</text><text x="985.5" y="584.9" font-size="11" fill="#333333" text-anchor="end" >0.2</text><text x="985.5" y="600.9" font-size="11" fill="#333333" text-anchor="end" >0.0</text><text x="0" y="0" font-size="12" fill="#7d7d7d" text-anchor="middle" transform="translate(956,574) rotate(-90)" dominant-baseline="central">load</text><text x="1028.4" y="615" font-size="11" fill="#333333" text-anchor="middle" >9 AM</text><text x="1098.3" y="615" font-size="11" fill="#333333" text-anchor="middle" >3 PM</text><text x="1168.3" y="615" font-size="11" fill="#333333" text-anchor="middle" >9 PM</text><text x="1238.2" y="615" font-size="11" fill="#333333" text-anchor="middle" >3 AM</text><text x="1308.2" y="615" font-size="11" fill="#333333" text-anchor="middle" >9 AM</text><text x="1378.1" y="615" font-size="11" fill="#333333" text-anchor="middle" >3 PM</text><text x="1448.1" y="615" font-size="11" fill="#333333" text-anchor="middle" >9 PM</text><text x="1518.0" y="615" font-size="11" fill="#333333" text-anchor="middle" >3 AM</text><text x="1588.0" y="615" font-size="11" fill="#333333" text-anchor="middle" >9 AM</text><text x="1657.9" y="615" font-size="11" fill="#333333" text-anchor="middle" >3 PM</text><text x="1727.8" y="615" font-size="11" fill="#333333" text-anchor="middle" >9 PM</text><text x="1797.8" y="615" font-size="11" fill="#333333" text-anchor="middle" >3 AM</text><text x="1015.9" y="628" font-size="11" fill="#333333" text-anchor="start" >27 Feb 2021</text><text x="1191.8" y="628" font-size="11" fill="#333333" text-anchor="start" >28</text><text x="1471.5" y="628" font-size="11" fill="#333333" text-anchor="start" >1 Mar</text><text x="1751.3" y="628" font-size="11" fill="#333333" text-anchor="start" >2</text><path d="M999.4,592.0 L1002.0,597.0 L1004.0,598.0 L1844.0,598.0" fill="none" stroke="#6ddbdb" stroke-width="2" stroke-linejoin="round" stroke-linecap="round"/><path d="M999.4,557.0 L1000.5,566.0 L1002.0,578.0 L1003.5,585.0 L1005.5,587.8 L1010.0,588.6 L1012.0,590.2 L1015.2,589.9 L1018.4,589.3 L1021.6,589.1 L1024.8,589.2 L1028.0,589.3 L1031.2,590.0 L1034.4,589.5 L1037.6,589.2 L1040.8,590.2 L1044.0,590.0 L1047.2,589.2 L1050.4,590.2 L1053.6,589.8 L1056.8,590.0 L1060.0,589.9 L1063.2,590.2 L1066.4,590.0 L1069.6,590.1 L1072.8,589.3 L1076.0,589.9 L1079.2,589.7 L1082.4,590.0 L1085.6,589.6 L1088.8,590.1 L1092.0,589.7 L1095.2,589.3 L1098.4,589.3 L1101.6,589.2 L1104.8,589.6 L1108.0,589.1 L1111.2,589.6 L1114.4,589.2 L1117.6,589.6 L1120.8,589.6 L1124.0,589.7 L1127.2,590.1 L1130.4,589.0 L1133.6,590.1 L1136.8,589.6 L1140.0,589.7 L1143.2,589.9 L1146.4,590.1 L1149.6,589.5 L1152.8,589.5 L1156.0,590.2 L1159.2,589.1 L1162.4,589.8 L1165.6,589.8 L1168.8,589.0 L1172.0,589.8 L1175.2,589.9 L1178.4,590.2 L1181.6,589.4 L1184.8,590.3 L1188.0,589.7 L1191.2,589.6 L1194.4,590.2 L1197.6,589.0 L1200.8,589.9 L1204.0,589.8 L1207.2,589.4 L1210.4,590.1 L1213.6,589.5 L1216.8,589.6 L1220.0,589.7 L1223.2,590.0 L1226.4,589.3 L1229.6,589.6 L1232.8,589.5 L1236.0,589.7 L1239.2,590.1 L1242.4,589.4 L1245.6,590.1 L1248.8,589.5 L1252.0,589.7 L1255.2,589.4 L1258.4,589.7 L1261.6,590.3 L1264.8,589.9 L1268.0,590.0 L1271.2,589.4 L1274.4,589.4 L1277.6,589.4 L1280.8,589.8 L1284.0,589.8 L1287.2,590.0 L1290.4,589.1 L1293.6,589.9 L1296.8,590.2 L1300.0,589.7 L1303.2,589.1 L1306.4,589.4 L1309.6,589.0 L1312.8,589.2 L1316.0,590.2 L1319.2,589.8 L1322.4,589.9 L1325.6,590.0 L1328.8,590.2 L1332.0,589.8 L1335.2,589.8 L1338.4,589.8 L1341.6,589.9 L1344.8,589.8 L1348.0,589.9 L1351.2,589.3 L1354.4,589.9 L1357.6,589.6 L1360.8,590.0 L1364.0,589.1 L1367.2,589.2 L1370.4,589.0 L1373.6,590.0 L1376.8,590.2 L1380.0,589.9 L1383.2,589.5 L1386.4,590.1 L1389.6,590.0 L1392.8,589.7 L1396.0,589.3 L1399.2,589.4 L1402.4,589.5 L1405.6,589.4 L1408.8,589.6 L1412.0,589.8 L1415.2,590.2 L1418.4,589.1 L1421.6,589.7 L1424.8,589.1 L1428.0,589.2 L1431.2,590.1 L1434.4,589.7 L1437.6,590.2 L1440.8,589.6 L1444.0,589.0 L1447.2,589.5 L1450.4,589.8 L1453.6,590.2 L1456.8,590.3 L1460.0,589.6 L1463.2,589.5 L1466.4,589.1 L1469.6,589.8 L1472.8,589.3 L1476.0,589.2 L1479.2,589.0 L1482.4,589.0 L1485.6,589.9 L1488.8,589.2 L1492.0,590.3 L1495.2,589.1 L1498.4,590.1 L1501.6,589.2 L1504.8,589.0 L1508.0,589.9 L1511.2,589.3 L1514.4,590.0 L1517.6,589.2 L1520.8,589.1 L1524.0,590.0 L1527.2,589.9 L1530.4,590.1 L1533.6,589.9 L1536.8,589.1 L1540.0,589.8 L1543.2,589.9 L1546.4,589.6 L1549.6,590.2 L1552.8,589.3 L1556.0,590.3 L1559.2,589.9 L1562.4,589.0 L1565.6,589.0 L1568.8,589.8 L1572.0,590.1 L1575.2,589.1 L1578.4,589.4 L1581.6,589.9 L1584.8,589.2 L1588.0,590.1 L1591.2,589.6 L1594.4,589.1 L1597.6,589.5 L1600.8,589.7 L1604.0,589.6 L1607.2,589.9 L1610.4,589.2 L1613.6,590.0 L1616.8,589.5 L1620.0,589.8 L1623.2,589.8 L1626.4,589.5 L1629.6,589.5 L1632.8,590.0 L1636.0,590.2 L1639.2,590.0 L1642.4,589.7 L1645.6,589.4 L1648.8,589.1 L1652.0,590.3 L1655.2,589.9 L1658.4,590.1 L1661.6,589.4 L1664.8,589.8 L1668.0,590.3 L1671.2,590.1 L1674.4,589.8 L1677.6,589.4 L1680.8,589.6 L1684.0,590.2 L1687.2,589.5 L1690.4,589.9 L1693.6,589.8 L1696.8,590.2 L1700.0,590.0 L1703.2,589.4 L1706.4,589.0 L1709.6,589.3 L1712.8,589.5 L1716.0,589.8 L1719.2,590.1 L1722.4,590.2 L1725.6,589.1 L1728.8,590.1 L1732.0,590.1 L1735.2,590.1 L1738.4,589.7 L1741.6,589.4 L1744.8,590.1 L1748.0,590.0 L1751.2,589.9 L1754.4,590.2 L1757.6,589.5 L1760.8,589.1 L1764.0,589.7 L1767.2,590.0 L1770.4,589.3 L1773.6,590.0 L1776.8,590.2 L1780.0,589.3 L1783.2,589.8 L1786.4,589.9 L1789.6,589.6 L1792.8,589.3 L1796.0,589.3 L1799.2,590.0 L1802.4,590.0 L1805.6,589.6 L1808.8,589.1 L1812.0,590.0 L1815.2,590.0 L1818.4,589.3 L1821.6,589.8 L1824.8,590.2 L1828.0,590.2 L1831.2,589.7 L1834.4,589.6 L1837.6,589.8 L1840.8,589.2 L1844.0,589.3" fill="none" stroke="#267db3" stroke-width="2" stroke-linejoin="round" stroke-linecap="round"/><text x="23.3" y="679.5" font-size="18" fill="#333333" text-anchor="start" >GC Time</text><rect x="366" y="693" width="9" height="9" fill="#267db3"/><text x="381" y="702" font-size="11" fill="#333333" text-anchor="start" >GcOldTotalTime</text><rect x="467" y="693" width="9" height="9" fill="#6ddbdb"/><text x="482" y="702" font-size="11" fill="#333333" text-anchor="start" >GcYoungTotalTime</text><line x1="68" y1="715.5" x2="911.5" y2="715.5" stroke="#e3e7ec" stroke-width="1"/><line x1="68" y1="724.5" x2="911.5" y2="724.5" stroke="#e3e7ec" stroke-width="1"/><line x1="68" y1="734.5" x2="911.5" y2="734.5" stroke="#e3e7ec" stroke-width="1"/><line x1="68" y1="744.5" x2="911.5" y2="744.5" stroke="#e3e7ec" stroke-width="1"/><line x1="68" y1="754.5" x2="911.5" y2="754.5" stroke="#e3e7ec" stroke-width="1"/><path d="M73.9,741.8 L77.1,740.2 L134.7,735.9 L166.7,733.8 L260.0,731.1 L335.2,727.9 L518.7,724.3 L748.0,720.1 L910.9,715.1 L910.9,763.5 L73.9,763.5 Z" fill="#6ddbdb" fill-opacity="0.2" stroke="none"/><line x1="68" y1="763.5" x2="911.5" y2="763.5" stroke="#9a9a9a" stroke-width="1"/><text x="60" y="728.2" font-size="11" fill="#333333" text-anchor="end" >2.0K</text><text x="60" y="747.4" font-size="11" fill="#333333" text-anchor="end" >1.0K</text><text x="60" y="766.7" font-size="11" fill="#333333" text-anchor="end" >0.0</text><text x="0" y="0" font-size="12" fill="#7d7d7d" text-anchor="middle" transform="translate(24,739.5) rotate(-90)" dominant-baseline="central">ms</text><text x="102.1" y="781" font-size="11" fill="#333333" text-anchor="middle" >9 AM</text><text x="171.4" y="781" font-size="11" fill="#333333" text-anchor="middle" >3 PM</text><text x="240.7" y="781" font-size="11" fill="#333333" text-anchor="middle" >9 PM</text><text x="310.1" y="781" font-size="11" fill="#333333" text-anchor="middle" >3 AM</text><text x="379.4" y="781" font-size="11" fill="#333333" text-anchor="middle" >9 AM</text><text x="448.7" y="781" font-size="11" fill="#333333" text-anchor="middle" >3 PM</text><text x="518.1" y="781" font-size="11" fill="#333333" text-anchor="middle" >9 PM</text><text x="587.4" y="781" font-size="11" fill="#333333" text-anchor="middle" >3 AM</text><text x="656.7" y="781" font-size="11" fill="#333333" text-anchor="middle" >9 AM</text><text x="726.0" y="781" font-size="11" fill="#333333" text-anchor="middle" >3 PM</text><text x="795.4" y="781" font-size="11" fill="#333333" text-anchor="middle" >9 PM</text><text x="864.7" y="781" font-size="11" fill="#333333" text-anchor="middle" >3 AM</text><text x="89.6" y="794" font-size="11" fill="#333333" text-anchor="start" >27 Feb 2021</text><text x="263.9" y="794" font-size="11" fill="#333333" text-anchor="start" >28</text><text x="541.2" y="794" font-size="11" fill="#333333" text-anchor="start" >1 Mar</text><text x="818.5" y="794" font-size="11" fill="#333333" text-anchor="start" >2</text><path d="M73.9,741.8 L77.1,740.2 L134.7,735.9 L166.7,733.8 L260.0,731.1 L335.2,727.9 L518.7,724.3 L748.0,720.1 L910.9,715.1" fill="none" stroke="#6ddbdb" stroke-width="2" stroke-linejoin="round" stroke-linecap="round"/><path d="M73.9,763.6 L910.9,763.6" fill="none" stroke="#267db3" stroke-width="2.4" stroke-linejoin="round" stroke-linecap="round"/><text x="956.5" y="679.5" font-size="18" fill="#333333" text-anchor="start" >GC Count</text><rect x="1293" y="693" width="9" height="9" fill="#267db3"/><text x="1308" y="702" font-size="11" fill="#333333" text-anchor="start" >GcOldTotalCount</text><rect x="1400" y="693" width="9" height="9" fill="#6ddbdb"/><text x="1415" y="702" font-size="11" fill="#333333" text-anchor="start" >GcYoungTotalCount</text><line x1="1012" y1="715.5" x2="1845" y2="715.5" stroke="#e3e7ec" stroke-width="1"/><line x1="1012" y1="723.5" x2="1845" y2="723.5" stroke="#e3e7ec" stroke-width="1"/><line x1="1012" y1="731.5" x2="1845" y2="731.5" stroke="#e3e7ec" stroke-width="1"/><line x1="1012" y1="739.5" x2="1845" y2="739.5" stroke="#e3e7ec" stroke-width="1"/><line x1="1012" y1="747.5" x2="1845" y2="747.5" stroke="#e3e7ec" stroke-width="1"/><line x1="1012" y1="755.5" x2="1845" y2="755.5" stroke="#e3e7ec" stroke-width="1"/><text x="1003.5" y="718.1" font-size="11" fill="#333333" text-anchor="end" >0.0030</text><text x="1003.5" y="734.3" font-size="11" fill="#333333" text-anchor="end" >0.0020</text><text x="1003.5" y="750.2" font-size="11" fill="#333333" text-anchor="end" >0.0010</text><text x="1003.5" y="766.4" font-size="11" fill="#333333" text-anchor="end" >0.0000</text><text x="0" y="0" font-size="12" fill="#7d7d7d" text-anchor="middle" transform="translate(956.2,739) rotate(-90)" dominant-baseline="central">count/s</text><text x="1045.7" y="781" font-size="11" fill="#333333" text-anchor="middle" >9 AM</text><text x="1114.1" y="781" font-size="11" fill="#333333" text-anchor="middle" >3 PM</text><text x="1182.6" y="781" font-size="11" fill="#333333" text-anchor="middle" >9 PM</text><text x="1251.1" y="781" font-size="11" fill="#333333" text-anchor="middle" >3 AM</text><text x="1319.5" y="781" font-size="11" fill="#333333" text-anchor="middle" >9 AM</text><text x="1388.0" y="781" font-size="11" fill="#333333" text-anchor="middle" >3 PM</text><text x="1456.5" y="781" font-size="11" fill="#333333" text-anchor="middle" >9 PM</text><text x="1524.9" y="781" font-size="11" fill="#333333" text-anchor="middle" >3 AM</text><text x="1593.4" y="781" font-size="11" fill="#333333" text-anchor="middle" >9 AM</text><text x="1661.9" y="781" font-size="11" fill="#333333" text-anchor="middle" >3 PM</text><text x="1730.3" y="781" font-size="11" fill="#333333" text-anchor="middle" >9 PM</text><text x="1798.8" y="781" font-size="11" fill="#333333" text-anchor="middle" >3 AM</text><text x="1033.2" y="794" font-size="11" fill="#333333" text-anchor="start" >27 Feb 2021</text><text x="1205.3" y="794" font-size="11" fill="#333333" text-anchor="start" >28</text><text x="1479.2" y="794" font-size="11" fill="#333333" text-anchor="start" >1 Mar</text><text x="1753.1" y="794" font-size="11" fill="#333333" text-anchor="start" >2</text><rect x="1020.2" y="731.3" width="3.9" height="32.2" fill="#6ddbdb"/><rect x="1027.2" y="756.4" width="3.9" height="7.1" fill="#6ddbdb"/><rect x="1034.3" y="756.4" width="3.9" height="7.1" fill="#6ddbdb"/><rect x="1041.3" y="756.4" width="3.9" height="7.1" fill="#6ddbdb"/><rect x="1048.3" y="749.2" width="3.9" height="14.3" fill="#6ddbdb"/><rect x="1055.3" y="756.4" width="3.9" height="7.1" fill="#6ddbdb"/><rect x="1062.4" y="749.2" width="3.9" height="14.3" fill="#6ddbdb"/><rect x="1069.4" y="756.4" width="3.9" height="7.1" fill="#6ddbdb"/><rect x="1076.4" y="749.2" width="3.9" height="14.3" fill="#6ddbdb"/><rect x="1083.5" y="756.4" width="3.9" height="7.1" fill="#6ddbdb"/><rect x="1090.5" y="749.2" width="3.9" height="14.3" fill="#6ddbdb"/><rect x="1097.5" y="756.4" width="3.9" height="7.1" fill="#6ddbdb"/><rect x="1104.6" y="749.2" width="3.9" height="14.3" fill="#6ddbdb"/><rect x="1111.6" y="756.4" width="3.9" height="7.1" fill="#6ddbdb"/><rect x="1118.6" y="749.2" width="3.9" height="14.3" fill="#6ddbdb"/><rect x="1125.6" y="756.4" width="3.9" height="7.1" fill="#6ddbdb"/><rect x="1132.7" y="756.4" width="3.9" height="7.1" fill="#6ddbdb"/><rect x="1139.7" y="756.4" width="3.9" height="7.1" fill="#6ddbdb"/><rect x="1146.7" y="756.4" width="3.9" height="7.1" fill="#6ddbdb"/><rect x="1153.8" y="749.2" width="3.9" height="14.3" fill="#6ddbdb"/><rect x="1160.8" y="756.4" width="3.9" height="7.1" fill="#6ddbdb"/><rect x="1167.8" y="749.2" width="3.9" height="14.3" fill="#6ddbdb"/><rect x="1174.9" y="756.4" width="3.9" height="7.1" fill="#6ddbdb"/><rect x="1181.9" y="756.4" width="3.9" height="7.1" fill="#6ddbdb"/><rect x="1188.9" y="749.2" width="3.9" height="14.3" fill="#6ddbdb"/><rect x="1195.9" y="756.4" width="3.9" height="7.1" fill="#6ddbdb"/><rect x="1203.0" y="749.2" width="3.9" height="14.3" fill="#6ddbdb"/><rect x="1210.0" y="756.4" width="3.9" height="7.1" fill="#6ddbdb"/><rect x="1217.0" y="749.2" width="3.9" height="14.3" fill="#6ddbdb"/><rect x="1224.1" y="756.4" width="3.9" height="7.1" fill="#6ddbdb"/><rect x="1231.1" y="749.2" width="3.9" height="14.3" fill="#6ddbdb"/><rect x="1238.1" y="756.4" width="3.9" height="7.1" fill="#6ddbdb"/><rect x="1245.2" y="749.2" width="3.9" height="14.3" fill="#6ddbdb"/><rect x="1252.2" y="756.4" width="3.9" height="7.1" fill="#6ddbdb"/><rect x="1259.2" y="756.4" width="3.9" height="7.1" fill="#6ddbdb"/><rect x="1266.2" y="756.4" width="3.9" height="7.1" fill="#6ddbdb"/><rect x="1273.3" y="756.4" width="3.9" height="7.1" fill="#6ddbdb"/><rect x="1280.3" y="749.2" width="3.9" height="14.3" fill="#6ddbdb"/><rect x="1287.3" y="749.2" width="3.9" height="14.3" fill="#6ddbdb"/><rect x="1294.4" y="756.4" width="3.9" height="7.1" fill="#6ddbdb"/><rect x="1301.4" y="756.4" width="3.9" height="7.1" fill="#6ddbdb"/><rect x="1308.4" y="756.4" width="3.9" height="7.1" fill="#6ddbdb"/><rect x="1315.5" y="749.2" width="3.9" height="14.3" fill="#6ddbdb"/><rect x="1322.5" y="756.4" width="3.9" height="7.1" fill="#6ddbdb"/><rect x="1329.5" y="756.4" width="3.9" height="7.1" fill="#6ddbdb"/><rect x="1336.5" y="756.4" width="3.9" height="7.1" fill="#6ddbdb"/><rect x="1343.6" y="756.4" width="3.9" height="7.1" fill="#6ddbdb"/><rect x="1350.6" y="749.2" width="3.9" height="14.3" fill="#6ddbdb"/><rect x="1357.6" y="756.4" width="3.9" height="7.1" fill="#6ddbdb"/><rect x="1364.7" y="749.2" width="3.9" height="14.3" fill="#6ddbdb"/><rect x="1371.7" y="756.4" width="3.9" height="7.1" fill="#6ddbdb"/><rect x="1378.7" y="749.2" width="3.9" height="14.3" fill="#6ddbdb"/><rect x="1385.8" y="756.4" width="3.9" height="7.1" fill="#6ddbdb"/><rect x="1392.8" y="749.2" width="3.9" height="14.3" fill="#6ddbdb"/><rect x="1399.8" y="756.4" width="3.9" height="7.1" fill="#6ddbdb"/><rect x="1406.8" y="749.2" width="3.9" height="14.3" fill="#6ddbdb"/><rect x="1413.9" y="756.4" width="3.9" height="7.1" fill="#6ddbdb"/><rect x="1420.9" y="749.2" width="3.9" height="14.3" fill="#6ddbdb"/><rect x="1427.9" y="756.4" width="3.9" height="7.1" fill="#6ddbdb"/><rect x="1435.0" y="756.4" width="3.9" height="7.1" fill="#6ddbdb"/><rect x="1442.0" y="749.2" width="3.9" height="14.3" fill="#6ddbdb"/><rect x="1449.0" y="756.4" width="3.9" height="7.1" fill="#6ddbdb"/><rect x="1456.1" y="749.2" width="3.9" height="14.3" fill="#6ddbdb"/><rect x="1463.1" y="756.4" width="3.9" height="7.1" fill="#6ddbdb"/><rect x="1470.1" y="756.4" width="3.9" height="7.1" fill="#6ddbdb"/><rect x="1477.1" y="756.4" width="3.9" height="7.1" fill="#6ddbdb"/><rect x="1484.2" y="756.4" width="3.9" height="7.1" fill="#6ddbdb"/><rect x="1491.2" y="749.2" width="3.9" height="14.3" fill="#6ddbdb"/><rect x="1498.2" y="756.4" width="3.9" height="7.1" fill="#6ddbdb"/><rect x="1505.3" y="749.2" width="3.9" height="14.3" fill="#6ddbdb"/><rect x="1512.3" y="756.4" width="3.9" height="7.1" fill="#6ddbdb"/><rect x="1519.3" y="756.4" width="3.9" height="7.1" fill="#6ddbdb"/><rect x="1526.4" y="749.2" width="3.9" height="14.3" fill="#6ddbdb"/><rect x="1533.4" y="756.4" width="3.9" height="7.1" fill="#6ddbdb"/><rect x="1540.4" y="749.2" width="3.9" height="14.3" fill="#6ddbdb"/><rect x="1547.4" y="756.4" width="3.9" height="7.1" fill="#6ddbdb"/><rect x="1554.5" y="756.4" width="3.9" height="7.1" fill="#6ddbdb"/><rect x="1561.5" y="749.2" width="3.9" height="14.3" fill="#6ddbdb"/><rect x="1568.5" y="756.4" width="3.9" height="7.1" fill="#6ddbdb"/><rect x="1575.6" y="749.2" width="3.9" height="14.3" fill="#6ddbdb"/><rect x="1582.6" y="756.4" width="3.9" height="7.1" fill="#6ddbdb"/><rect x="1589.6" y="749.2" width="3.9" height="14.3" fill="#6ddbdb"/><rect x="1596.7" y="756.4" width="3.9" height="7.1" fill="#6ddbdb"/><rect x="1603.7" y="756.4" width="3.9" height="7.1" fill="#6ddbdb"/><rect x="1610.7" y="756.4" width="3.9" height="7.1" fill="#6ddbdb"/><rect x="1617.7" y="756.4" width="3.9" height="7.1" fill="#6ddbdb"/><rect x="1624.8" y="749.2" width="3.9" height="14.3" fill="#6ddbdb"/><rect x="1631.8" y="756.4" width="3.9" height="7.1" fill="#6ddbdb"/><rect x="1638.8" y="749.2" width="3.9" height="14.3" fill="#6ddbdb"/><rect x="1645.9" y="756.4" width="3.9" height="7.1" fill="#6ddbdb"/><rect x="1652.9" y="749.2" width="3.9" height="14.3" fill="#6ddbdb"/><rect x="1659.9" y="749.2" width="3.9" height="14.3" fill="#6ddbdb"/><rect x="1667.0" y="756.4" width="3.9" height="7.1" fill="#6ddbdb"/><rect x="1674.0" y="749.2" width="3.9" height="14.3" fill="#6ddbdb"/><rect x="1681.0" y="756.4" width="3.9" height="7.1" fill="#6ddbdb"/><rect x="1688.0" y="749.2" width="3.9" height="14.3" fill="#6ddbdb"/><rect x="1695.1" y="749.2" width="3.9" height="14.3" fill="#6ddbdb"/><rect x="1702.1" y="756.4" width="3.9" height="7.1" fill="#6ddbdb"/><rect x="1709.1" y="749.2" width="3.9" height="14.3" fill="#6ddbdb"/><rect x="1716.2" y="756.4" width="3.9" height="7.1" fill="#6ddbdb"/><rect x="1723.2" y="749.2" width="3.9" height="14.3" fill="#6ddbdb"/><rect x="1730.2" y="749.2" width="3.9" height="14.3" fill="#6ddbdb"/><rect x="1737.3" y="756.4" width="3.9" height="7.1" fill="#6ddbdb"/><rect x="1744.3" y="749.2" width="3.9" height="14.3" fill="#6ddbdb"/><rect x="1751.3" y="749.2" width="3.9" height="14.3" fill="#6ddbdb"/><rect x="1758.3" y="756.4" width="3.9" height="7.1" fill="#6ddbdb"/><rect x="1765.4" y="749.2" width="3.9" height="14.3" fill="#6ddbdb"/><rect x="1772.4" y="756.4" width="3.9" height="7.1" fill="#6ddbdb"/><rect x="1779.4" y="749.2" width="3.9" height="14.3" fill="#6ddbdb"/><rect x="1786.5" y="756.4" width="3.9" height="7.1" fill="#6ddbdb"/><rect x="1793.5" y="756.4" width="3.9" height="7.1" fill="#6ddbdb"/><rect x="1800.5" y="756.4" width="3.9" height="7.1" fill="#6ddbdb"/><rect x="1807.6" y="749.2" width="3.9" height="14.3" fill="#6ddbdb"/><rect x="1814.6" y="756.4" width="3.9" height="7.1" fill="#6ddbdb"/><rect x="1821.6" y="749.2" width="3.9" height="14.3" fill="#6ddbdb"/><rect x="1828.6" y="756.4" width="3.9" height="7.1" fill="#6ddbdb"/><rect x="1835.7" y="749.2" width="3.9" height="14.3" fill="#6ddbdb"/><line x1="1012" y1="763.5" x2="1845" y2="763.5" stroke="#9a9a9a" stroke-width="1"/></svg>
</body></html>
